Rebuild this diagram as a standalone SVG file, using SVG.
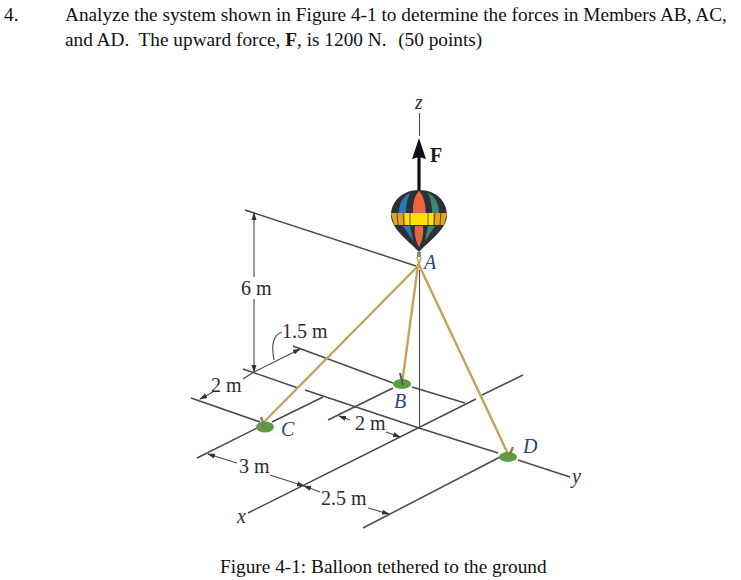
<svg xmlns="http://www.w3.org/2000/svg" width="741" height="580" viewBox="0 0 741 580">
<style>
text{font-family:"Liberation Serif","Times New Roman",serif;fill:#1c1c1c}
.h{font-size:19.3px;fill:#111;white-space:pre}
.d{font-size:20px;fill:#2b2b2b}
.l{font-size:20px;font-style:italic;fill:#27496d}
.ln{stroke:#4a4a4a;stroke-width:1.5;fill:none}
.dm{stroke:#4a4a4a;stroke-width:1.1;fill:none}
.r{stroke:#c4a25c;stroke-width:2.4;fill:none;stroke-linecap:round}
.g{fill:#5c9c45}
</style>
<defs>
<marker id="ah" markerWidth="8" markerHeight="6" refX="7" refY="3" orient="auto-start-reverse" markerUnits="userSpaceOnUse"><path d="M0 0.5L8 3L0 5.5z" fill="#333"/></marker>
</defs>
<g id="question">
<text class="h" x="4" y="21">4.</text>
<text class="h" x="65" y="21">Analyze the system shown in Figure 4-1 to determine the forces in Members AB, AC,</text>
<text class="h" x="65" y="46">and AD.  The upward force, <tspan font-weight="bold">F</tspan>, is 1200 N.  <tspan dx="2">(50 points)</tspan></text>
<text class="h" x="220" y="573">Figure 4-1: Balloon tethered to the ground</text>
</g>
<g id="connectors">
<path class="ln" d="M245 210L416 266"/>
<path class="ln" d="M243 369L298 388M305 390L419 428L498 453M518 460L570 477"/>
<path class="ln" d="M293 346L393 383M412 387L465 403"/>
<path class="ln" d="M191 398L260 422"/>
<path class="ln" d="M197 458L257 428M272 422L323 397"/>
<path class="ln" d="M328 420L393 388"/>
<path class="ln" d="M248 513L476 399M482 395L523 375"/>
<path class="ln" d="M363 528L500 457"/>
<path class="dm" d="M419.5 113V136"/>
<path class="dm" d="M419.5 270V428"/>
<path class="dm" marker-start="url(#ah)" d="M254 213V277"/>
<path class="dm" marker-end="url(#ah)" d="M254 299V372"/>
<path class="dm" marker-end="url(#ah)" d="M254 372L300 349"/>
<path class="dm" d="M254 372L243 379"/>
<path class="dm" marker-end="url(#ah)" d="M213 392L200 399"/>
<path class="dm" d="M274 360C271 345 273 335 282 332"/>
<path class="dm" marker-end="url(#ah)" d="M237 463L208 454"/>
<path class="dm" marker-end="url(#ah)" d="M270 475L304 486"/>
<path class="dm" marker-start="url(#ah)" d="M304 486L320 492"/>
<path class="dm" marker-end="url(#ah)" d="M368 508L389 514"/>
<path class="dm" marker-end="url(#ah)" d="M350 420L339 416"/>
<path class="dm" marker-end="url(#ah)" d="M386 432L400 437"/>
</g>
<g id="node-balloon">
<path d="M419 190C401 190 391 203 391 215C391 229 408 240 419 252C430 240 447 229 447 215C447 203 438 190 419 190Z" fill="#2c3038"/>
<path d="M408 194C401 199 399 206 399 213H406C406 206 407 199 410 193Z" fill="#2a78b8"/>
<path d="M430 194C437 199 439 206 439 213H432C432 206 431 199 428 193Z" fill="#3a8a72"/>
<path d="M419 191C415 195 412 204 413 213H425.500C426 204 423 195 419 191Z" fill="#e8663a"/>
<path d="M391 213H447L444 225H394Z" fill="#e5a21f"/>
<path d="M405 213H433V225H405Z" fill="#ffe100"/>
<path d="M397 213l1 12M403 213l1 12M410 213v12M428 213v12M435 213l-1 12M441 213l-1 12" stroke="#333" stroke-width="0.8"/>
<path d="M415 226H423C424 234 422 242 419 247C416 242 414 234 415 226Z" fill="#e8663a"/>
<path d="M403 226H410L413 241Z" fill="#2a78b8"/>
<path d="M435 226H428L425 241Z" fill="#3a8a72"/>
<rect x="417" y="252" width="4" height="5" fill="#888"/>
</g>
<g id="node-force">
<path d="M419 190V155" stroke="#111" stroke-width="3.2"/>
<path d="M419 138L426 159L419 157L412 159Z" fill="#111"/>
<text x="430" y="162" font-size="20" font-weight="bold" fill="#222">F</text>
<text class="l" x="415" y="109" style="fill:#333">z</text>
</g>
<g id="ropes">
<path class="r" d="M419 265L263 423"/>
<path class="r" d="M418 265L402 384"/>
<path class="r" d="M419 265L509 456"/>
<path d="M417 257L419 265L421 257" stroke="#c4a25c" stroke-width="1.5" fill="none"/>
</g>
<g id="node-A"><text class="l" x="424" y="269">A</text></g>
<g id="node-B">
<ellipse class="g" cx="402" cy="384" rx="9" ry="5"/>
<path d="M400 373L403 385" stroke="#555" stroke-width="2"/>
<text class="l" x="394" y="408">B</text>
</g>
<g id="node-C">
<ellipse class="g" cx="265" cy="427" rx="9" ry="5.500"/>
<path d="M261 417L265 428" stroke="#8a7a60" stroke-width="2.400"/>
<text class="l" x="281" y="436">C</text>
</g>
<g id="node-D">
<ellipse class="g" cx="508" cy="457" rx="9" ry="5"/>
<path d="M513 447L508 458" stroke="#8a7a60" stroke-width="2.400"/>
<text class="l" x="523" y="453">D</text>
</g>
<g id="labels">
<text class="d" x="241" y="295">6 m</text>
<text class="d" x="282" y="338">1.5 m</text>
<text class="d" x="211" y="392">2 m</text>
<text class="d" x="239" y="473">3 m</text>
<text class="d" x="321" y="505">2.5 m</text>
<text class="d" x="355" y="430">2 m</text>
<text class="l" x="237" y="523" style="fill:#333">x</text>
<text class="l" x="572" y="483" style="fill:#333">y</text>
</g>
</svg>
